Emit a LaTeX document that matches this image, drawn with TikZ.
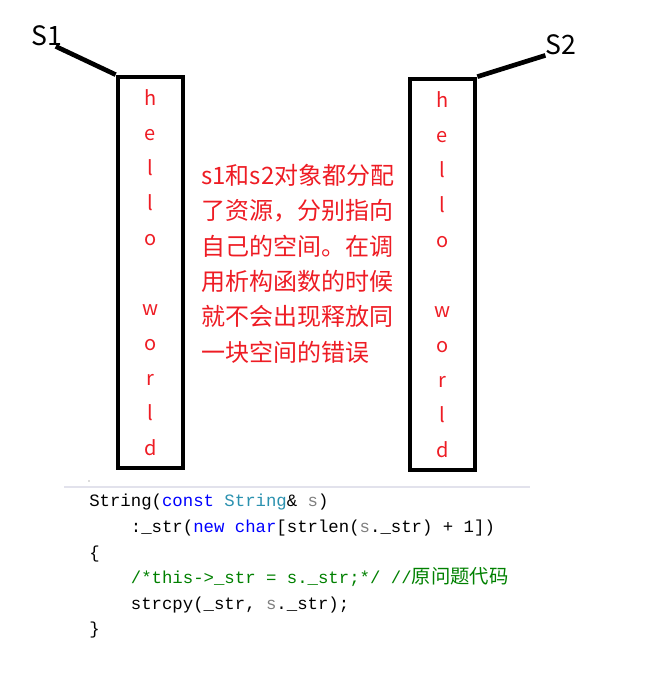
\documentclass[tikz,border=0pt]{standalone}
\usepackage{fontspec}
\newfontfamily\cjk{Noto Sans CJK SC}
\setmonofont{Liberation Mono}
\usetikzlibrary{positioning}
\definecolor{notered}{HTML}{EE1C24}
\definecolor{kwblue}{HTML}{0000FF}
\definecolor{typeteal}{HTML}{2B91AF}
\definecolor{argray}{HTML}{808080}
\definecolor{cmtgreen}{HTML}{008000}
\definecolor{rulegray}{HTML}{E2E2EC}
\tikzset{strbox/.style={draw,line width=3.5pt,minimum width=48.75pt,minimum height=293.25pt,inner sep=0pt},
    letters/.style={text=notered,font=\cjk\fontsize{15}{26.2}\selectfont,align=center,inner sep=0pt},
    ptrname/.style={font=\cjk\fontsize{20}{24}\selectfont,inner sep=0pt},
    ptr/.style={line width=3.5pt},
    }
\newcommand{\kw}[1]{\textcolor{kwblue}{#1}}
\newcommand{\ag}[1]{\textcolor{argray}{#1}}
\newcommand{\ind}{\hphantom{0000}}

\begin{document}
\begin{tikzpicture}[x=0.75pt,y=-0.75pt]
\useasboundingbox (0,0) rectangle (658,674);
% the two objects
\node[strbox] (box1) at (150.5,272.5) {};
\node[strbox] (box2) at (442.5,274.5) {};
\node[letters] (str1) at (box1.center) {h\\e\\l\\l\\o\\[26.2pt]w\\o\\r\\l\\d};
\node[letters] (str2) at (box2.center) {h\\e\\l\\l\\o\\[26.2pt]w\\o\\r\\l\\d};
\node[ptrname] (s1lbl) at (47,36) {S1};
\node[ptrname] (s2lbl) at (561,45) {S2};
\draw[ptr] (s1lbl.-50) -- (box1.north west);
\draw[ptr] (s2lbl.south west) -- (box2.north east);
\node[text=notered,font=\cjk\fontsize{18}{26.5}\selectfont,align=left,inner sep=0pt,anchor=north west] (note) at (201,164)
    {s1和s2对象都分配\\了资源，分别指向\\自己的空间。在调\\用析构函数的时候\\就不会出现释放同\\一块空间的错误};
% code snippet
\draw[rulegray,line width=1.5pt] (64,487) -- (530,487);
\fill[black!60] (89,481) circle (0.6);
\node[font=\ttfamily\fontsize{13}{19.2}\selectfont,align=left,inner sep=0pt,anchor=north west] (code) at (89,494)
    {String(\kw{const} \textcolor{typeteal}{String}\&\ \ag{s})\\
     \ind:\_str(\kw{new} \kw{char}[strlen(\ag{s}.\_str) + 1])\\
     \{\\
     \ind\textcolor{cmtgreen}{/*this->\_str = s.\_str;*/ //{\cjk\fontsize{14.5}{19.2}\selectfont 原问题代码}}\\
     \ind strcpy(\_str, \ag{s}.\_str);\\
     \}};
\end{tikzpicture}
\end{document}
